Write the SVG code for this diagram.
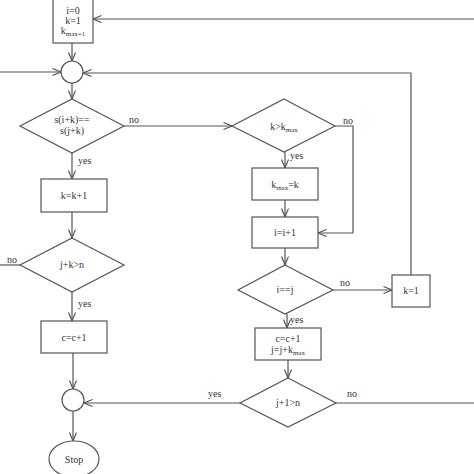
<svg xmlns="http://www.w3.org/2000/svg" width="474" height="474" viewBox="0 0 474 474">
<style>
.s{fill:#fff;stroke:#555;stroke-width:1.2}
.c{fill:none;stroke:#555;stroke-width:1.2}
.a{marker-end:url(#arr)}
text{font-family:"Liberation Serif","Times New Roman",serif;font-size:10px;fill:#333;text-anchor:middle}
.l{text-anchor:start}
</style>
<defs>
<marker id="arr" markerUnits="userSpaceOnUse" markerWidth="10" markerHeight="10" refX="9" refY="4" orient="auto">
<path d="M0.5,0.5 L9,4 L0.5,7.5" fill="none" stroke="#555" stroke-width="1.2"/>
</marker>
</defs>
<g id="connectors">
<path class="c a" d="M474,19 L93,19"/>
<path class="c a" d="M72,43 L72,61"/>
<path class="c a" d="M0,72 L61,72"/>
<path class="c a" d="M411,275 L411,73 L83,73"/>
<path class="c a" d="M72,83 L72,99"/>
<path class="c a" d="M124,126 L232,126"/>
<path class="c a" d="M72,153 L72,179"/>
<path class="c a" d="M72,212 L72,238"/>
<path class="c" d="M20,265 L0,265"/>
<path class="c a" d="M72,292 L72,321"/>
<path class="c a" d="M73,353 L73,389"/>
<path class="c a" d="M73,411 L73,441"/>
<path class="c a" d="M240,403 L84,403"/>
<path class="c" d="M336,403 L474,403"/>
<path class="c a" d="M335,126 L353,126 L353,233 L318,233"/>
<path class="c a" d="M285,152 L285,168"/>
<path class="c a" d="M285,200 L285,217"/>
<path class="c a" d="M285,248 L285,265"/>
<path class="c a" d="M333,290 L392,290"/>
<path class="c a" d="M287,314 L287,328"/>
<path class="c a" d="M288,360 L288,378"/>
<text class="l" x="129" y="123">no</text>
<text class="l" x="78" y="164">yes</text>
<text class="l" x="7" y="263">no</text>
<text class="l" x="78" y="307">yes</text>
<text class="l" x="343" y="124">no</text>
<text class="l" x="290" y="159">yes</text>
<text class="l" x="340" y="286">no</text>
<text class="l" x="290" y="323">yes</text>
<text class="l" x="208" y="397">yes</text>
<text class="l" x="347" y="397">no</text>
</g>
<g id="init">
<rect class="s" x="53" y="-5" width="40" height="48"/>
<text x="73" y="14">i=0</text>
<text x="73" y="24">k=1</text>
<text x="73" y="34">k<tspan font-size="7" dy="2">max=1</tspan></text>
</g>
<g id="join1"><circle class="s" cx="72" cy="72" r="11"/></g>
<g id="cmp"><polygon class="s" points="72,99 124,126 72,153 20,126"/>
<text x="72" y="123">s(i+k)==</text><text x="72" y="134">s(j+k)</text></g>
<g id="inck"><rect class="s" x="41" y="179" width="66" height="33"/><text x="74" y="199">k=k+1</text></g>
<g id="jk"><polygon class="s" points="72,238 124,265 72,292 20,265"/><text x="72" y="268">j+k&gt;n</text></g>
<g id="incc"><rect class="s" x="41" y="321" width="66" height="32"/><text x="74" y="341">c=c+1</text></g>
<g id="join2"><circle class="s" cx="73" cy="400" r="11"/></g>
<g id="stop"><ellipse class="s" cx="74" cy="459" rx="25" ry="18"/><text x="74" y="463">Stop</text></g>
<g id="kmaxcmp"><polygon class="s" points="284,99 335,126 284,152 232,126"/><text x="284" y="130">k&gt;k<tspan font-size="7" dy="2">max</tspan></text></g>
<g id="setkmax"><rect class="s" x="252" y="168" width="66" height="32"/><text x="285" y="188">k<tspan font-size="7" dy="2">max</tspan><tspan dy="-2">=k</tspan></text></g>
<g id="inci"><rect class="s" x="252" y="217" width="66" height="31"/><text x="285" y="236">i=i+1</text></g>
<g id="ij"><polygon class="s" points="285,265 333,290 285,314 238,290"/><text x="285" y="293">i==j</text></g>
<g id="k1"><rect class="s" x="392" y="275" width="38" height="32"/><text x="411" y="294">k=1</text></g>
<g id="incj"><rect class="s" x="255" y="328" width="66" height="32"/><text x="288" y="342">c=c+1</text><text x="288" y="353">j=j+k<tspan font-size="7" dy="2">max</tspan></text></g>
<g id="j1n"><polygon class="s" points="288,378 336,403 288,427 240,403"/><text x="288" y="406">j+1&gt;n</text></g>
</svg>
